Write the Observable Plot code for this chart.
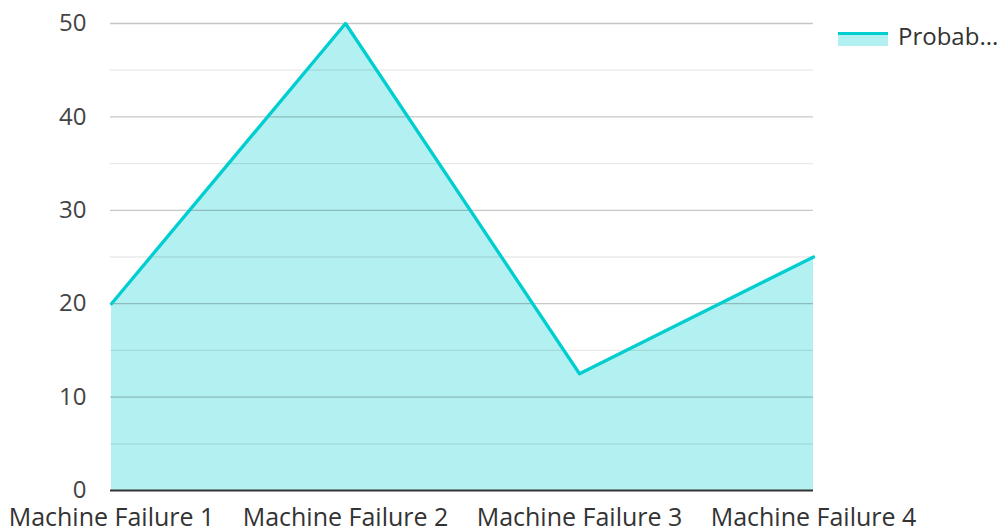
<!DOCTYPE html>
<html><head><meta charset="utf-8">
<script src="https://cdn.jsdelivr.net/npm/d3@7"></script>
<script src="https://cdn.jsdelivr.net/npm/@observablehq/plot@0.6"></script>
<style>
html,body{margin:0;padding:0;background:#fff;}
#wrap{position:relative;width:1003px;height:531px;font-family:"Open Sans",sans-serif;}
#legend{position:absolute;z-index:2;left:838px;top:19px;display:flex;align-items:center;font-size:24px;color:#333;}
#legend .sw{width:50px;height:14px;background:rgba(0,206,209,0.3);border-top:3px solid #00CED1;box-sizing:border-box;margin-right:10px;margin-top:6px;}
#wrap svg text{font-size:24px !important;}
#wrap svg g.xax text{font-size:25px !important;}
</style></head>
<body><div id="wrap"><div id="legend"><div class="sw"></div><span>Probab...</span></div></div>
<script>
const categories = ["Machine Failure 1","Machine Failure 2","Machine Failure 3","Machine Failure 4"];
const values = [20, 50, 12.5, 25];
const majorTicks = [0,10,20,30,40,50];
const minorTicks = [5,15,25,35,45];
const data = categories.map((c,i)=>({c, v: values[i]}));
const teal = "#00CED1";
const chart = Plot.plot({
  width: 1003, height: 531,
  marginLeft: 110, marginRight: 190, marginTop: 23, marginBottom: 41,
  style: {fontFamily: "'Open Sans', sans-serif", color: "#444", background: "#fff"},
  x: {type: "point", domain: categories, padding: 0, label: null},
  y: {domain: [0, 50], label: null},
  marks: [
    Plot.areaY(data, {x: "c", y: "v", fill: teal, fillOpacity: 0.3}),
    Plot.ruleY(minorTicks, {stroke: "#000", strokeOpacity: 0.09, strokeWidth: 1.3}),
    Plot.ruleY(majorTicks.filter(d=>d>0), {stroke: "#000", strokeOpacity: 0.22, strokeWidth: 1.3}),
    Plot.lineY(data, {x: "c", y: "v", stroke: teal, strokeWidth: 3.3}),
    Plot.ruleY([0], {stroke: "#333", strokeWidth: 2}),
    Plot.axisY({ticks: majorTicks, tickSize: 0, tickPadding: 24, fill: "#444"}),
    Plot.axisX({tickSize: 0, tickPadding: 18, fill: "#333", className: "xax"})
  ]
});
document.getElementById("wrap").appendChild(chart);
chart.style.position="absolute"; chart.style.left="0"; chart.style.top="0";
</script></body></html>
